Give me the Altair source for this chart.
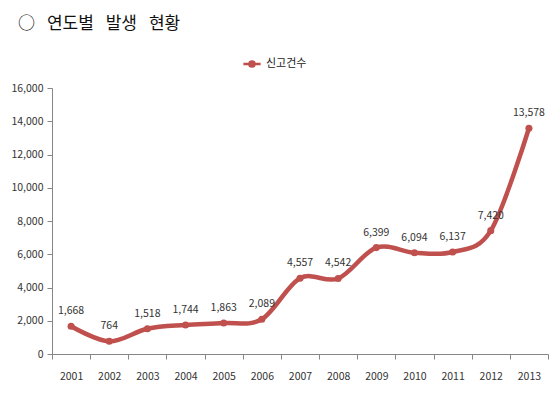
import altair as alt
import pandas as pd

years = ["2001", "2002", "2003", "2004", "2005", "2006", "2007", "2008", "2009", "2010", "2011", "2012", "2013"]
reports = [1668, 764, 1518, 1744, 1863, 2089, 4557, 4542, 6399, 6094, 6137, 7420, 13578]
series_name = "신고건수"
title_text = "○\u2002\u2009연도별\u2002\u2009발생\u2002\u2009현황"

df = pd.DataFrame({"year": years, "count": reports, "series": series_name})
df["label"] = df["count"].map(lambda v: f"{v:,}")

FONT = "Noto Sans CJK KR"
RED = "#C0504D"

x = alt.X("year:N", sort=years, title=None,
          scale=alt.Scale(paddingInner=0, paddingOuter=0),
          axis=alt.Axis(labelAngle=0, tickBand="extent", labelPadding=12, tickSize=5,
                        domainColor="#868686", tickColor="#868686"))
y = alt.Y("count:Q", title=None,
          scale=alt.Scale(domain=[0, 16000], nice=False),
          axis=alt.Axis(values=list(range(0, 16001, 2000)), format=",d", grid=False,
                        tickSize=5, labelPadding=4, domainColor="#868686", tickColor="#868686"))

base = alt.Chart(df).encode(x=x, y=y)

line = base.mark_line(interpolate="cardinal", strokeWidth=4.5, point=alt.OverlayMarkDef(size=50, filled=True, color=RED)).encode(
    color=alt.Color("series:N", scale=alt.Scale(domain=[series_name], range=[RED]),
                    legend=alt.Legend(title=None, orient="none", legendX=190, legendY=-34,
                                      symbolType="M -1 0 L 1 0 M 0.3 0 A 0.3 0.3 0 1 1 -0.3 0 A 0.3 0.3 0 1 1 0.3 0",
                                      symbolStrokeWidth=2.5, symbolSize=300, symbolFillColor=RED,
                                      labelFont=FONT, labelFontSize=11, labelColor="#222"))
)

labels = base.mark_text(dy=-15, font=FONT, fontSize=10.5, color="#333").encode(text="label:N")

chart = (line + labels).properties(
    width=496, height=266,
    title=alt.TitleParams(title_text, anchor="start", frame="group", dx=-34, offset=21,
                          font=FONT, fontSize=17, fontWeight="normal", color="#111"),
    autosize=alt.AutoSizeParams(type="none"),
    padding={"left": 44, "top": 80, "right": 4, "bottom": 30},
).configure_view(stroke=None).configure_axis(
    labelFont=FONT, labelFontSize=10.5, labelColor="#333"
)

chart.save("out.html", embed_options={"renderer": "svg", "actions": False})
